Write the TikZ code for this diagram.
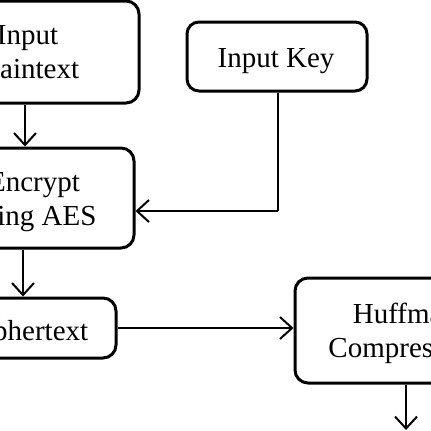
\documentclass[tikz,border=0pt]{standalone}
\usepackage{fontspec}
\setmainfont{Liberation Serif}
\usetikzlibrary{arrows.meta}
\begin{document}
\begin{tikzpicture}[x=1pt,y=-1pt,
  box/.style={draw=black,line width=3pt,rounded corners=13pt,inner sep=0pt},
  lbl/.style={anchor=base,align=center,inner sep=0pt,font=\fontsize{29}{33.5}\selectfont},
  arr/.style={line width=2pt,-{Straight Barb[length=12pt,width=22pt,line width=2pt]}},
  thin/.style={line width=1.5pt}]
\useasboundingbox (0,0) rectangle (431,431);
\node[box,minimum width=223pt,minimum height=102pt] (b1) at (27.5,52) {};
\node[lbl] (t1) at (27.5,78) {Input\\Plaintext};
\node[box,minimum width=200pt,minimum height=100pt] (b2) at (34,198) {};
\node[lbl] (t2) at (34,225) {Encrypt\\using AES};
\node[box,minimum width=178pt,minimum height=60pt] (b3) at (27,328) {};
\node[lbl] (t3) at (27,340) {Ciphertext};
\node[box,minimum width=180pt,minimum height=69pt,rounded corners=12pt] (key) at (277,56.5) {};
\node[lbl] (tk) at (276,67) {Input Key};
\node[box,minimum width=220pt,minimum height=105pt] (huf) at (405,330.5) {};
\node[lbl] (th) at (405,357) {Huffman\\Compression};
\coordinate (a1) at (25,0);
\coordinate (a2) at (23,0);
\coordinate (kx) at (278,0);
\coordinate (ky) at (0,211);
\coordinate (hx) at (406,0);
\coordinate (hend) at (406,430);
\draw[arr] (b1.south -| a1) -- (b2.north -| a1);
\draw[arr] (b2.south -| a2) -- (b3.north -| a2);
\draw[thin] (key.south -| kx) -- (kx |- ky) coordinate (corner);
\draw[arr,line width=1.5pt] (corner) -- (b2.east |- ky);
\draw[arr] (b3.east) -- (b3.east -| huf.west);
\draw[arr] (huf.south -| hx) -- (hend);
\end{tikzpicture}
\end{document}
